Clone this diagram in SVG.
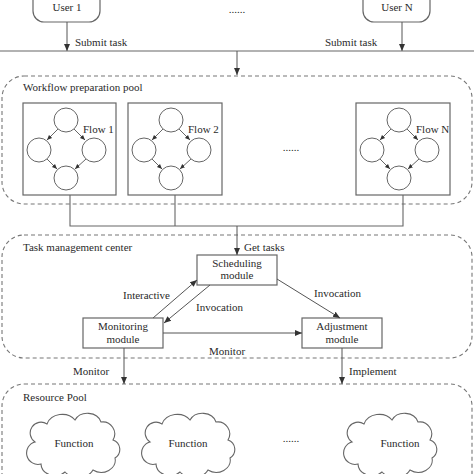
<svg xmlns="http://www.w3.org/2000/svg" width="474" height="474" viewBox="0 0 474 474">
<style>
text{font-family:"Liberation Serif","Times New Roman",serif;font-size:11px;fill:#2a2a2a}
.c{text-anchor:middle}
.box{fill:#fff;stroke:#666;stroke-width:1.2}
.pool{fill:none;stroke:#777;stroke-width:1.1;stroke-dasharray:4 3}
.ln{fill:none;stroke:#666;stroke-width:1.1}
.ar{fill:none;stroke:#555;stroke-width:1;marker-end:url(#ah)}
.sa{fill:none;stroke:#555;stroke-width:0.9;marker-end:url(#sh)}
.cir{fill:#fff;stroke:#666;stroke-width:1}
.cloud{fill:#fff;stroke:#666;stroke-width:1.1}
</style>
<defs>
<marker id="ah" markerWidth="8" markerHeight="8" refX="7" refY="4" orient="auto" markerUnits="userSpaceOnUse">
<path d="M0,1 L7,4 L0,7 Z" fill="#333"/>
</marker>
<marker id="sh" markerWidth="6" markerHeight="6" refX="5" refY="3" orient="auto" markerUnits="userSpaceOnUse">
<path d="M0,0.8 L5,3 L0,5.2 Z" fill="#333"/>
</marker>
<path id="cloudShape" class="cloud" d="M8,30 A10 10 0 0 1 20,12 A16 14 0 0 1 48,8 A14 12 0 0 1 74,10 A12 12 0 0 1 86,28 A10 10 0 0 1 88,46 A14 12 0 0 1 66,58 A16 12 0 0 1 38,60 A14 12 0 0 1 14,52 A10 10 0 0 1 8,30 Z"/>
<g id="flowShape">
<circle class="cir" cx="43" cy="17" r="12"/>
<circle class="cir" cx="16" cy="47" r="12"/>
<circle class="cir" cx="71" cy="47" r="12"/>
<circle class="cir" cx="43" cy="75" r="12"/>
<line class="sa" x1="35" y1="26" x2="24" y2="37"/>
<line class="sa" x1="51" y1="26" x2="62" y2="37"/>
<line class="sa" x1="24" y1="56" x2="34" y2="66"/>
<line class="sa" x1="63" y1="56" x2="52" y2="66"/>
</g>
</defs>

<g id="pools">
<rect class="pool" x="2" y="76" width="470" height="128" rx="22"/>
<rect class="pool" x="2" y="235" width="470" height="123" rx="22"/>
<rect class="pool" x="2" y="384" width="470" height="120" rx="22"/>
<text x="23" y="91">Workflow preparation pool</text>
<text x="23" y="251">Task management center</text>
<text x="23" y="401">Resource Pool</text>
</g>

<g id="user1">
<rect class="box" x="33" y="-12" width="67" height="34" rx="11"/>
<text class="c" x="67" y="11">User 1</text>
</g>
<g id="userN">
<rect class="box" x="363" y="-12" width="67" height="34" rx="11"/>
<text class="c" x="397" y="11">User N</text>
</g>
<text class="c" x="237" y="13">......</text>

<g id="flow1">
<rect class="box" x="23" y="103" width="93" height="92"/>
<use href="#flowShape" x="23" y="103"/>
<text x="83" y="133">Flow 1</text>
</g>
<g id="flow2">
<rect class="box" x="128" y="103" width="94" height="92"/>
<use href="#flowShape" x="128" y="103"/>
<text x="188" y="133">Flow 2</text>
</g>
<text class="c" x="291" y="151">......</text>
<g id="flowN">
<rect class="box" x="356" y="103" width="94" height="92"/>
<use href="#flowShape" x="356" y="103"/>
<text x="416" y="133">Flow N</text>
</g>

<g id="scheduling">
<rect class="box" x="197" y="255" width="80" height="30"/>
<text class="c" x="237" y="267">Scheduling</text>
<text class="c" x="237" y="279">module</text>
</g>
<g id="monitoring">
<rect class="box" x="83" y="318" width="80" height="30"/>
<text class="c" x="123" y="330">Monitoring</text>
<text class="c" x="123" y="343">module</text>
</g>
<g id="adjustment">
<rect class="box" x="302" y="318" width="80" height="30"/>
<text class="c" x="342" y="330">Adjustment</text>
<text class="c" x="342" y="343">module</text>
</g>

<g id="cloud1">
<use href="#cloudShape" x="27" y="412"/>
<text class="c" x="74" y="447">Function</text>
</g>
<g id="cloud2">
<use href="#cloudShape" x="142" y="412"/>
<text class="c" x="188" y="447">Function</text>
</g>
<text class="c" x="291" y="442">......</text>
<g id="cloud3">
<use href="#cloudShape" x="344" y="412"/>
<text class="c" x="400" y="447">Function</text>
</g>

<g id="connectors">
<line class="ar" x1="67" y1="22" x2="67" y2="51"/>
<line class="ar" x1="402" y1="22" x2="402" y2="51"/>
<line class="ln" x1="0" y1="51" x2="474" y2="51"/>
<line class="ar" x1="237" y1="51" x2="237" y2="75"/>
<text x="75" y="46">Submit task</text>
<text x="325" y="46">Submit task</text>

<polyline class="ln" points="70,195 70,226 403,226 403,195"/>
<line class="ln" x1="175" y1="195" x2="175" y2="226"/>
<line class="ar" x1="237" y1="226" x2="237" y2="255"/>
<text x="244" y="251">Get tasks</text>

<line class="ar" x1="153" y1="318" x2="197" y2="280"/>
<text x="170" y="299" text-anchor="end">Interactive</text>
<line class="ar" x1="210" y1="285" x2="164" y2="323"/>
<text x="196" y="311">Invocation</text>
<line class="ar" x1="277" y1="279" x2="340" y2="318"/>
<text x="314" y="297">Invocation</text>
<line class="ar" x1="163" y1="333" x2="302" y2="333"/>
<text x="209" y="355">Monitor</text>

<line class="ar" x1="124" y1="348" x2="124" y2="384"/>
<text x="73" y="375">Monitor</text>
<line class="ar" x1="342" y1="348" x2="342" y2="384"/>
<text x="349" y="375">Implement</text>
</g>
</svg>
